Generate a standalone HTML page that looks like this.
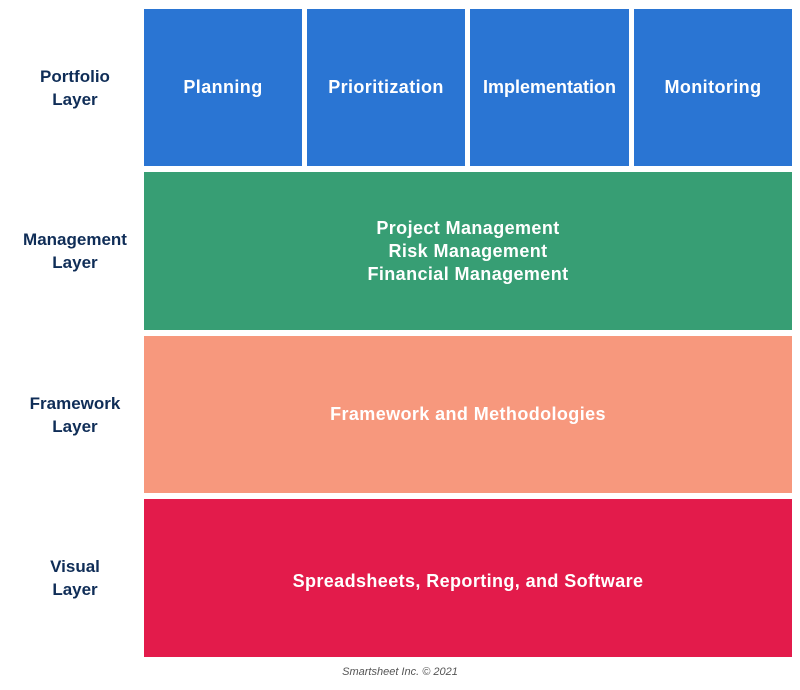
<!DOCTYPE html>
<html><head><style>
body{margin:0;width:800px;height:690px;background:#fff;position:relative;font-family:"Liberation Sans",sans-serif;overflow:hidden}
.b{position:absolute;display:flex;align-items:center;justify-content:center;color:#fff;font-weight:bold;text-align:center;letter-spacing:0.4px;box-sizing:border-box}
.l{position:absolute;left:0;width:150px;color:#0f2d57;font-weight:bold;font-size:17px;line-height:23px;text-align:center;display:flex;align-items:center;justify-content:center}
</style></head><body>
<div class="l" style="top:9px;height:157px">Portfolio<br>Layer</div>
<div class="l" style="top:172px;height:158px">Management<br>Layer</div>
<div class="l" style="top:336px;height:157px">Framework<br>Layer</div>
<div class="l" style="top:499px;height:158px">Visual<br>Layer</div>
<div class="b" style="left:144px;top:9px;width:158px;height:157px;background:#2a75d3;font-size:18px">Planning</div>
<div class="b" style="left:307px;top:9px;width:158px;height:157px;background:#2a75d3;font-size:18px">Prioritization</div>
<div class="b" style="left:470px;top:9px;width:159px;height:157px;background:#2a75d3;font-size:18px;letter-spacing:0">Implementation</div>
<div class="b" style="left:634px;top:9px;width:158px;height:157px;background:#2a75d3;font-size:18px">Monitoring</div>
<div class="b" style="left:144px;top:172px;width:648px;height:158px;background:#379e74;font-size:18px;line-height:23px">Project Management<br>Risk Management<br>Financial Management</div>
<div class="b" style="left:144px;top:336px;width:648px;height:157px;background:#f7987d;font-size:18px">Framework and Methodologies</div>
<div class="b" style="left:144px;top:499px;width:648px;height:158px;background:#e31b4b;font-size:18px;padding-top:6px">Spreadsheets, Reporting, and Software</div>
<div style="position:absolute;left:0;width:800px;top:666px;text-align:center;font-size:11px;font-style:italic;color:#555">Smartsheet Inc. © 2021</div>
</body></html>
